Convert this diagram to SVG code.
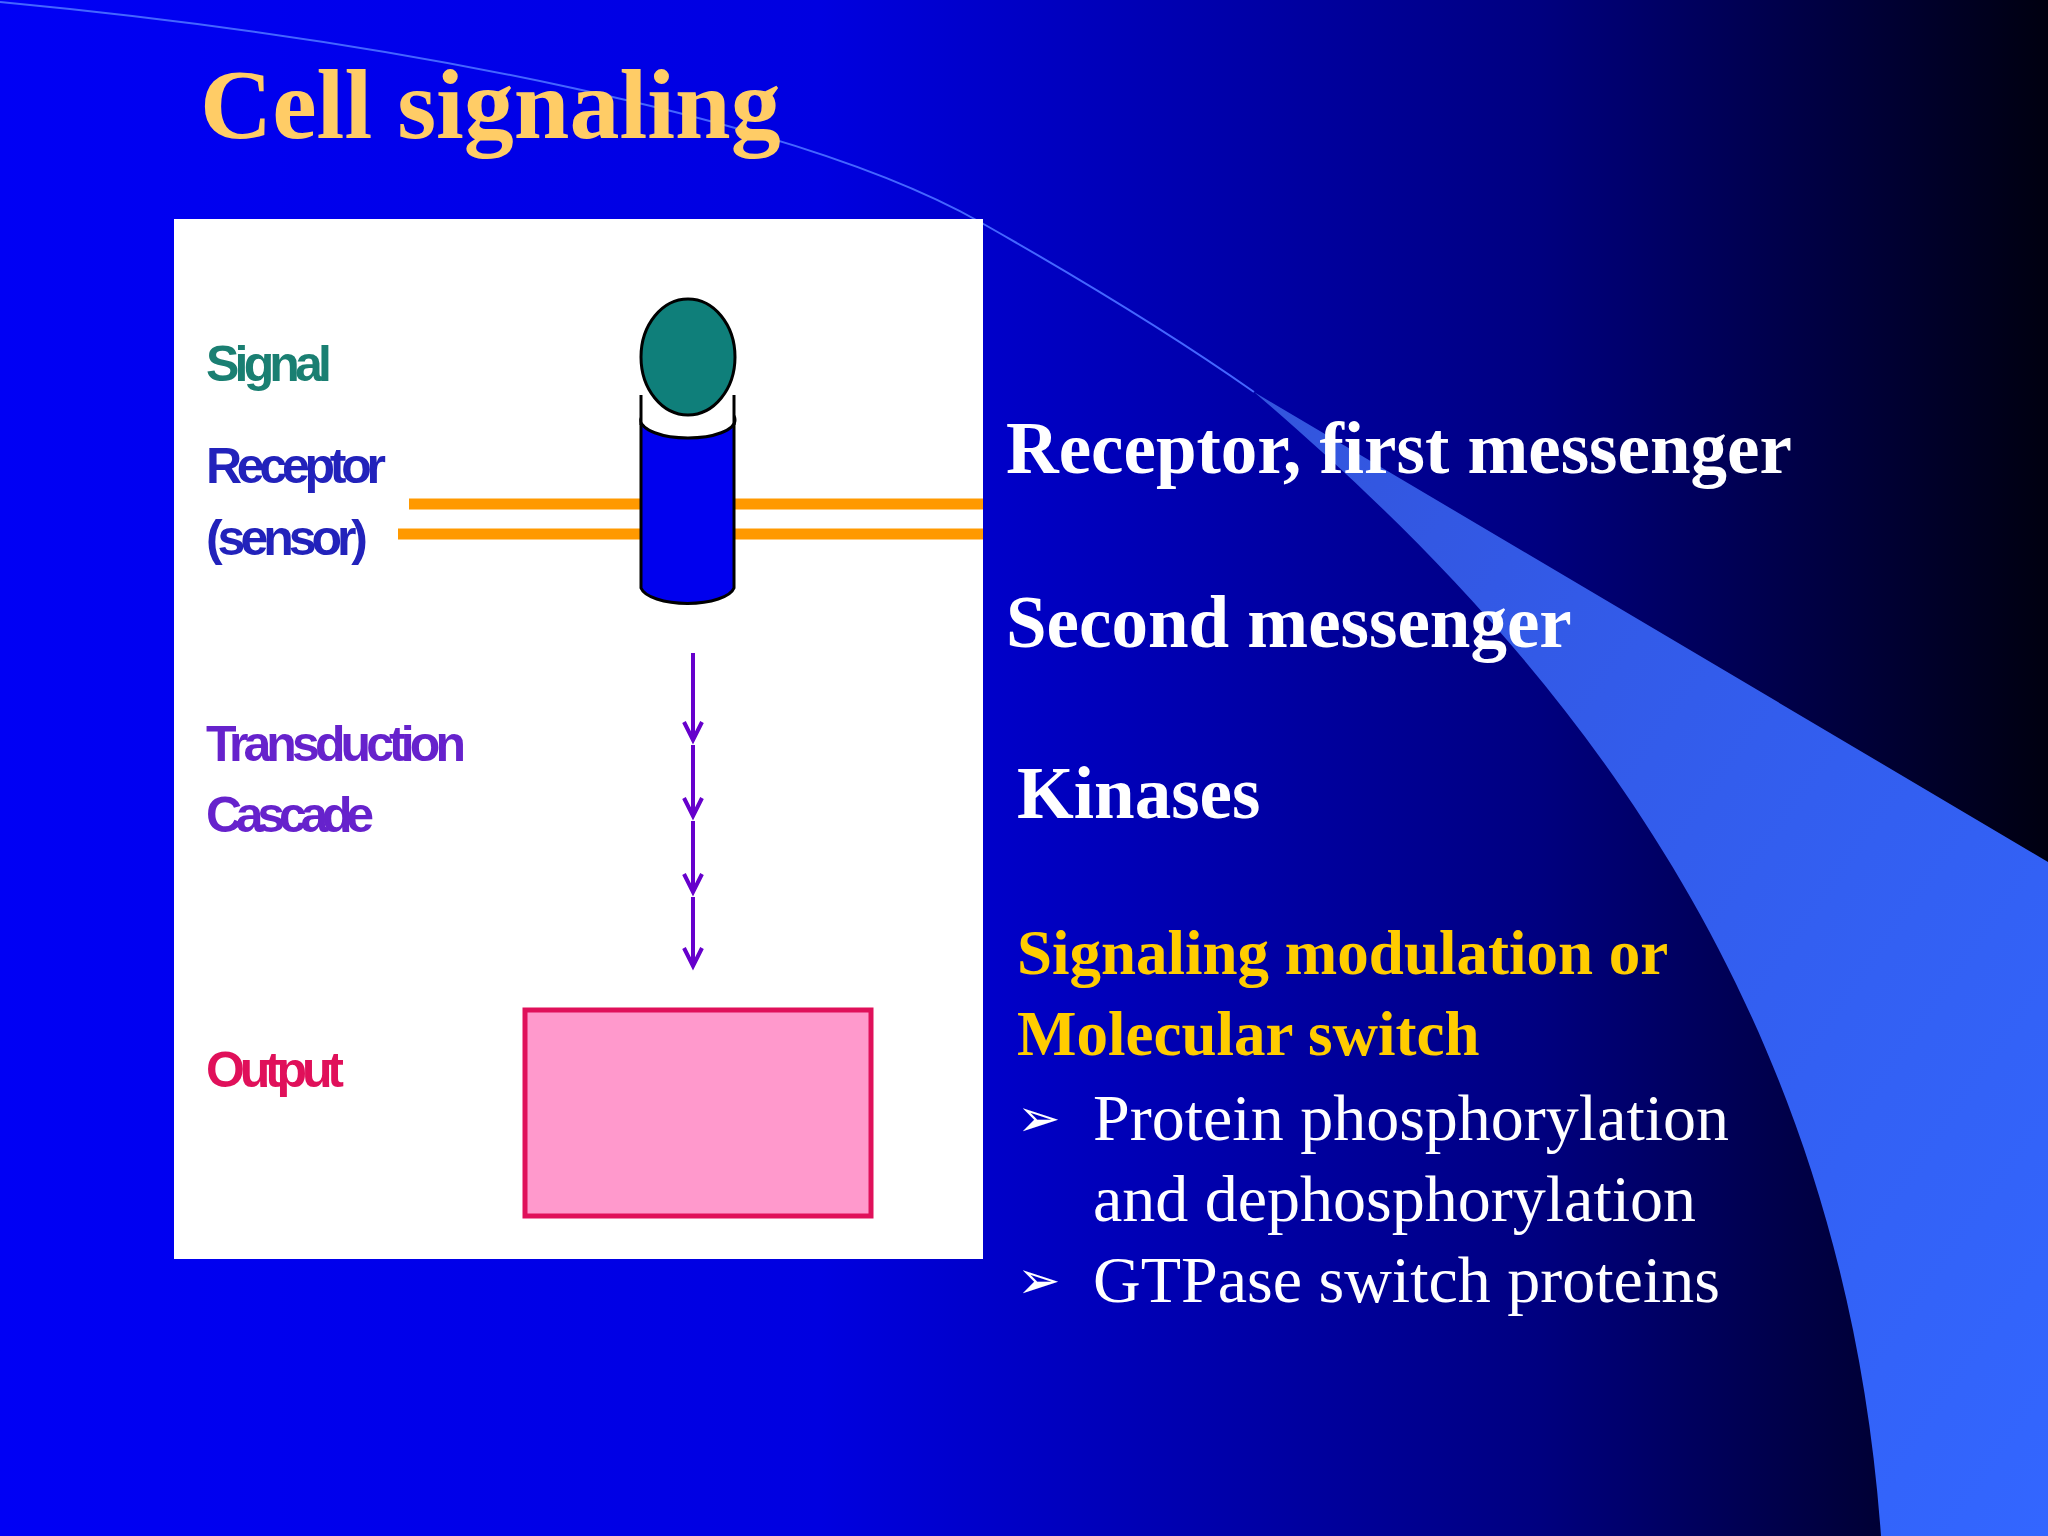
<svg xmlns="http://www.w3.org/2000/svg" width="2048" height="1536" viewBox="0 0 2048 1536">
<defs>
<linearGradient id="bg" x1="0" y1="0" x2="1" y2="0">
<stop offset="0" stop-color="#0000F5"/><stop offset="0.4" stop-color="#0000E0"/><stop offset="0.75" stop-color="#000080"/><stop offset="1" stop-color="#000010"/>
</linearGradient>
<linearGradient id="sw" x1="0" y1="0" x2="1" y2="1">
<stop offset="0" stop-color="#3355DD"/><stop offset="1" stop-color="#3366FF"/>
</linearGradient>
<marker id="ah" viewBox="0 0 10 10" refX="5" refY="10" markerWidth="5" markerHeight="5" orient="auto-start-reverse" markerUnits="userSpaceOnUse">
</marker>
<style>
.lbl{font-family:"Liberation Sans",Arial,sans-serif;font-weight:bold;font-size:50px}
.rt{font-family:"Liberation Serif","Times New Roman",serif;font-weight:bold;font-size:73px;fill:#fff}
.yt{font-family:"Liberation Serif","Times New Roman",serif;font-weight:bold;font-size:63px;fill:#FFCC00}
.bt{font-family:"Liberation Serif","Times New Roman",serif;font-size:66px;fill:#fff}
.bu{font-family:"DejaVu Sans",sans-serif;font-size:52px;fill:#fff}
.arr{stroke:#6600CC;stroke-width:4;fill:none}
</style>
</defs>
<rect width="2048" height="1536" fill="url(#bg)"/>
<path d="M1254,392 C1520,620 1840,960 1881,1536 L2048,1536 L2048,862 Z" fill="url(#sw)"/>
<path d="M0,2 C400,40 800,120 980,222 C1100,290 1180,340 1254,392" stroke="#4466FF" stroke-width="2" fill="none"/>
<text x="200" y="138" font-family="Liberation Serif,'Times New Roman',serif" font-weight="bold" font-size="100" fill="#FFCC66">Cell signaling</text>
<g id="panel">
<rect x="174" y="219" width="809" height="1040" fill="#fff"/>
</g>
<g id="membrane">
<line x1="409" y1="504" x2="983" y2="504" stroke="#FF9900" stroke-width="11"/>
<line x1="398" y1="534" x2="983" y2="534" stroke="#FF9900" stroke-width="11"/>
</g>
<g id="receptor">
<path d="M641,420 L641,588 A47,18 0 0 0 734,588 L734,420 Z" fill="#0000EE" stroke="#000" stroke-width="3"/>
<ellipse cx="688" cy="420" rx="47" ry="18" fill="#fff" stroke="#000" stroke-width="3"/>
<path d="M641,400 L641,420 A47,18 0 0 0 734,420 L734,400 Z" fill="#fff"/>
<line x1="641" y1="395" x2="641" y2="425" stroke="#000" stroke-width="3"/>
<line x1="734" y1="395" x2="734" y2="425" stroke="#000" stroke-width="3"/>
</g>
<g id="signal">
<ellipse cx="688" cy="357" rx="47" ry="58" fill="#0F7F7A" stroke="#000" stroke-width="3"/>
</g>
<g id="connectors">
<line class="arr" x1="693" y1="653" x2="693" y2="740"/>
<line class="arr" x1="693" y1="745" x2="693" y2="816"/>
<line class="arr" x1="693" y1="821" x2="693" y2="892"/>
<line class="arr" x1="693" y1="897" x2="693" y2="966"/>
<path class="arr" d="M684,722 L693,740 L702,722 M684,798 L693,816 L702,798 M684,874 L693,892 L702,874 M684,948 L693,966 L702,948"/>
</g>
<g id="output">
<rect x="525" y="1010" width="346" height="206" fill="#FF99CC" stroke="#E0105A" stroke-width="5"/>
</g>
<g id="labels">
<text class="lbl" x="206" y="381" fill="#1A7F72" textLength="126">Signal</text>
<text class="lbl" x="206" y="483" fill="#2222BB" textLength="180">Receptor</text>
<text class="lbl" x="206" y="555" fill="#2222BB" textLength="162">(sensor)</text>
<text class="lbl" x="206" y="761" fill="#6622CC" textLength="260">Transduction</text>
<text class="lbl" x="206" y="832" fill="#6622CC" textLength="168">Cascade</text>
<text class="lbl" x="206" y="1087" fill="#E0105A" textLength="138">Output</text>
</g>
<g id="right">
<text class="rt" x="1006" y="473">Receptor, first messenger</text>
<text class="rt" x="1006" y="647">Second messenger</text>
<text class="rt" x="1017" y="818">Kinases</text>
<text class="yt" x="1017" y="974">Signaling modulation or</text>
<text class="yt" x="1017" y="1055">Molecular switch</text>
<text class="bu" x="1017" y="1136">➢</text>
<text class="bt" x="1093" y="1140">Protein phosphorylation</text>
<text class="bt" x="1093" y="1221">and dephosphorylation</text>
<text class="bu" x="1017" y="1298">➢</text>
<text class="bt" x="1093" y="1302">GTPase switch proteins</text>
</g>
</svg>
